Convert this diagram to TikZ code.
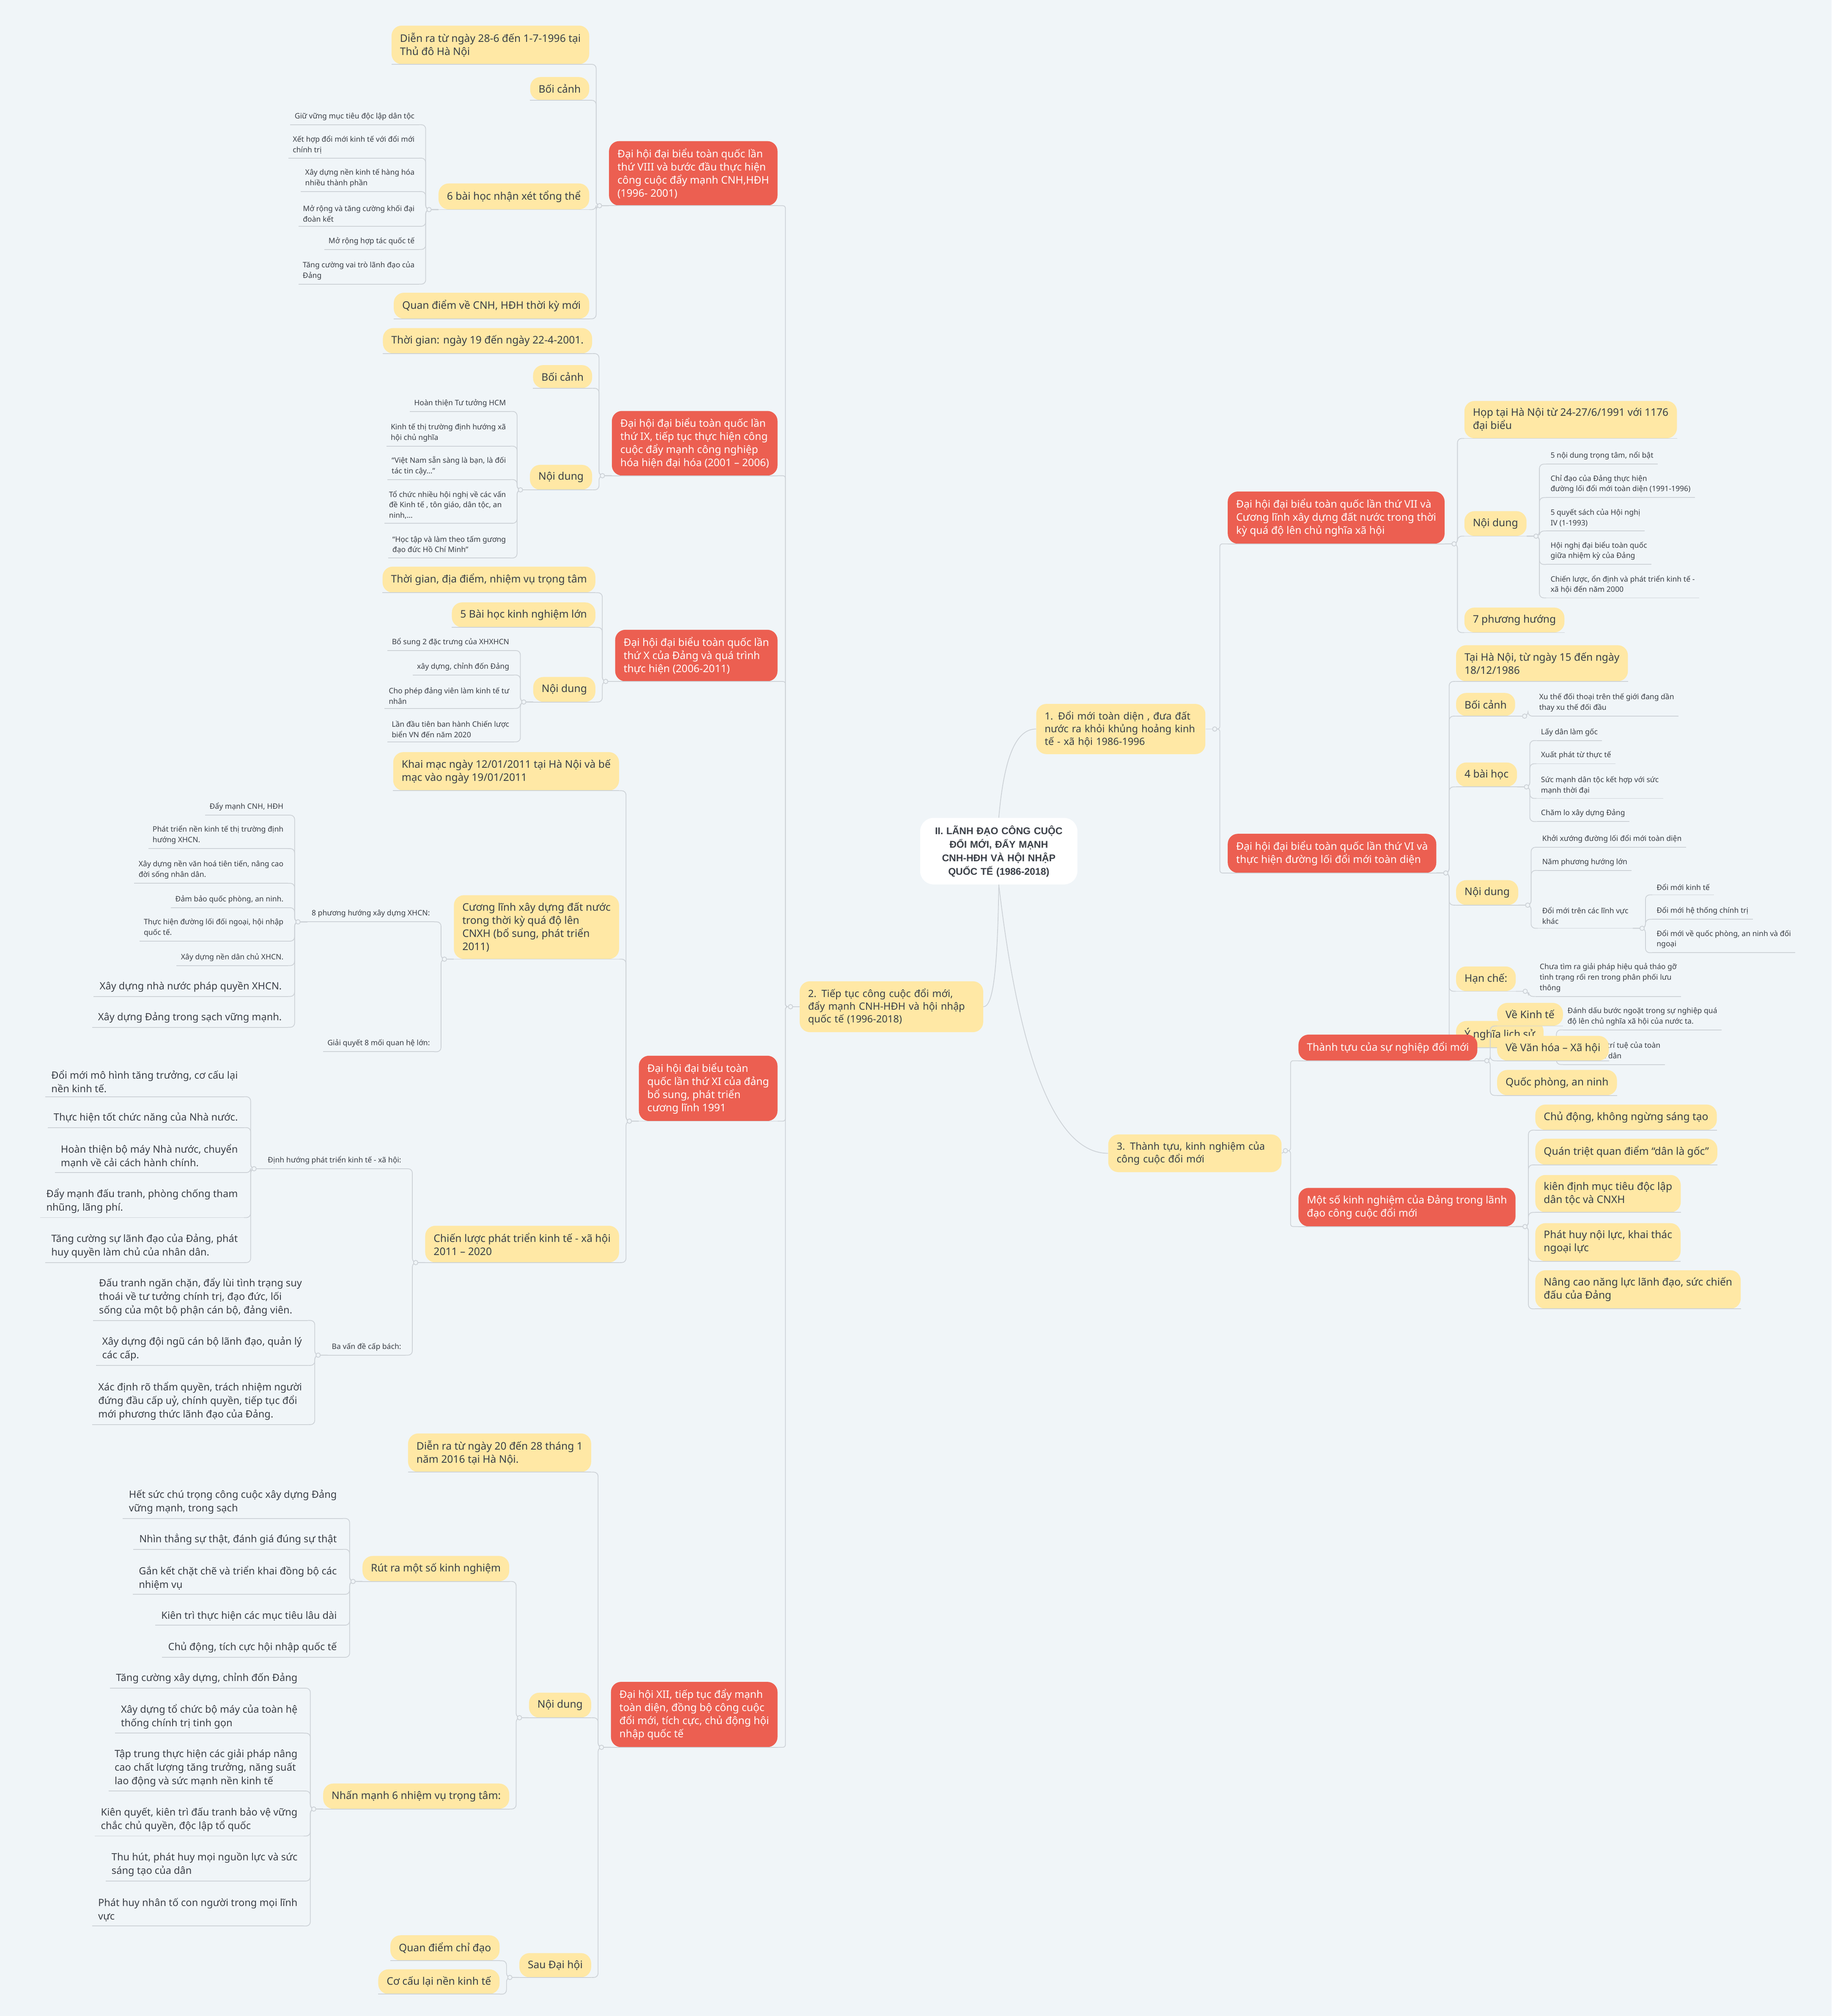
\documentclass[tikz,border=0pt]{standalone}
\usepackage{fontspec}
\setmainfont{Noto Sans}
\newfontfamily\rootfont{Liberation Sans}
\definecolor{bgc}{HTML}{F0F5F8}
\definecolor{yelc}{HTML}{FFE8A5}
\definecolor{redc}{HTML}{EC5F51}
\definecolor{linec}{HTML}{CDD2D7}
\definecolor{txt}{HTML}{3A3F47}
\newcommand\myL[2]{\foreach \x in {#2}{\draw[conn] (#1.south west) -- ++(-15pt,0) |- (\x.south east);}\draw[jc] ([xshift=-11pt]#1.south west) circle[radius=2.6pt];}
\newcommand\myR[2]{\foreach \x in {#2}{\draw[conn] (#1.south east) -- ++(15pt,0) |- (\x.south west);}\draw[jc] ([xshift=11pt]#1.south east) circle[radius=2.6pt];}
\newcommand\myLj[1]{\coordinate (#1-j) at ([xshift=-23pt]#1.south west);}
\newcommand\myRj[1]{\coordinate (#1-j) at ([xshift=23pt]#1.south east);}
\begin{document}
\begin{tikzpicture}[x=1.52pt,y=-1.52pt,
 uline/.style={draw=linec,line width=0.9pt},
 conn/.style={draw=linec,line width=0.9pt,rounded corners=5pt},
 jc/.style={fill=bgc,draw=linec,line width=0.9pt},
 ul/.style={append after command={(\tikzlastnode.south west) edge[uline] (\tikzlastnode.south east)}},
 ybox/.style={fill=yelc,text=txt,rounded corners=12pt,inner xsep=10pt,inner ysep=8.5pt,align=left,font=\fontsize{12.3}{15.5}\selectfont},
 yel/.style={ybox,ul},
 red/.style={ybox,fill=redc,text=white,ul},
 leaf/.style={text=txt,inner xsep=5pt,inner ysep=5pt,align=left,font=\fontsize{8.8}{12.3}\selectfont,ul},
 mleaf/.style={leaf,inner xsep=7pt,font=\fontsize{11.8}{16}\selectfont}]
\fill[bgc] (0,0) rectangle (1425,1568);
\useasboundingbox (0,0) rectangle (1425,1568);

% ---------- root and level 1
\node[fill=white,rounded corners=16pt,text width=168pt,align=center,text=txt,inner sep=9pt,font=\rootfont\bfseries\fontsize{11.5}{16}\selectfont] (root) at (777,662) {II. LÃNH ĐẠO CÔNG CUỘC\\ĐỔI MỚI, ĐẨY MẠNH\\CNH-HĐH VÀ HỘI NHẬP\\QUỐC TẾ (1986-2018)};
\node[ybox,anchor=west,text width=180pt,font=\fontsize{11.8}{15}\selectfont] (n1) at (806,567) {1. Đổi mới toàn diện , đưa đất\\nước ra khỏi khủng hoảng kinh\\tế - xã hội 1986-1996};
\node[ybox,anchor=east,text width=197pt,font=\fontsize{11.8}{15}\selectfont] (n2) at (765,783) {2. Tiếp tục công cuộc đổi mới,\\đẩy mạnh CNH-HĐH và hội nhập\\quốc tế (1996-2018)};
\node[ybox,anchor=west,text width=185pt,font=\fontsize{11.8}{15}\selectfont] (n3) at (862,897) {3. Thành tựu, kinh nghiệm của\\công cuộc đổi mới};
\draw[uline] (root.north) .. controls (781,590) and (790,567) .. (n1.west);
\draw[uline] (root.south) .. controls (776,760) and (772,783) .. (n2.east);
\draw[uline] (root.south) .. controls (790,800) and (815,897) .. (n3.west);
\coordinate (j1) at (945,567);
\coordinate (j2) at (615,783);
\coordinate (j3) at (1000,895);
\draw[uline] (n1.east) -- (j1);
\draw[uline] (n2.west) -- (j2);
\draw[uline] (n3.east) -- (j3);

% ---------- left reds
\node[red,anchor=south east] (R1) at (605,160) {Đại hội đại biểu toàn quốc lần\\thứ VIII và bước đầu thực hiện\\công cuộc đẩy mạnh CNH,HĐH\\(1996-  2001)};
\node[red,anchor=south east] (R2) at (605,370) {Đại hội đại biểu toàn quốc lần\\thứ IX, tiếp tục thực hiện công\\cuộc đẩy mạnh công nghiệp\\hóa hiện đại hóa (2001 – 2006)};
\node[red,anchor=south east] (R3) at (605,530) {Đại hội đại biểu toàn quốc lần\\thứ X của Đảng và quá trình\\thực hiện (2006-2011)};
\node[red,anchor=south east] (R4) at (605,872) {Đại hội đại biểu toàn\\quốc lần thứ XI của đảng\\bổ sung, phát triển\\cương lĩnh 1991};
\node[red,anchor=south east] (R5) at (605,1359) {Đại hội XII, tiếp tục đẩy mạnh\\toàn diện, đồng bộ công cuộc\\đổi mới, tích cực, chủ động hội\\nhập quốc tế};
\foreach \x in {R1,R2,R3,R4,R5}{\draw[conn,rounded corners=3pt] (j2) -- ++(-4,0) |- (\x.south east);}

% R1
\myLj{R1}
\node[yel,anchor=south east] (r1a) at (R1-j |- 0,50) {Diễn ra từ ngày 28-6 đến 1-7-1996 tại\\Thủ đô Hà Nội};
\node[yel,anchor=south east] (r1b) at (R1-j |- 0,78) {Bối cảnh};
\node[yel,anchor=south east] (r1c) at (R1-j |- 0,163) {6 bài học nhận xét tổng thể};
\node[yel,anchor=south east] (r1d) at (R1-j |- 0,248) {Quan điểm về CNH, HĐH thời kỳ mới};
\myLj{r1c}
\node[leaf,anchor=south east] (r1c1) at (r1c-j |- 0,97) {Giữ vững mục tiêu độc lập dân tộc};
\node[leaf,anchor=south east] (r1c2) at (r1c-j |- 0,123) {Xết hợp đổi mới kinh tế với đổi mới\\chính trị};
\node[leaf,anchor=south east] (r1c3) at (r1c-j |- 0,149) {Xây dựng nền kinh tế hàng hóa\\nhiều thành phần};
\node[leaf,anchor=south east] (r1c4) at (r1c-j |- 0,176) {Mở rộng và tăng cường khối đại\\đoàn kết};
\node[leaf,anchor=south east] (r1c5) at (r1c-j |- 0,194) {Mở rộng hợp tác quốc tế};
\node[leaf,anchor=south east] (r1c6) at (r1c-j |- 0,221) {Tăng cường vai trò lãnh đạo của\\Đảng};
\myL{r1c}{r1c1,r1c2,r1c3,r1c4,r1c5,r1c6}
\myL{R1}{r1a,r1b,r1c,r1d}

% R2
\myLj{R2}
\node[yel,anchor=south east] (r2a) at (R2-j |- 0,275) {Thời gian: ngày 19 đến ngày 22-4-2001.};
\node[yel,anchor=south east] (r2b) at (R2-j |- 0,302) {Bối cảnh};
\node[yel,anchor=south east] (r2c) at (R2-j |- 0,381) {Nội dung};
\myLj{r2c}
\node[leaf,anchor=south east] (r2c1) at (r2c-j |- 0,320) {Hoàn thiện Tư tưởng HCM};
\node[leaf,anchor=south east] (r2c2) at (r2c-j |- 0,347) {Kinh tế thị trường định hướng xã\\hội chủ nghĩa};
\node[leaf,anchor=south east] (r2c3) at (r2c-j |- 0,373) {“Việt Nam sẵn sàng là bạn, là đối\\tác tin cậy...”};
\node[leaf,anchor=south east] (r2c4) at (r2c-j |- 0,407) {Tổ chức nhiều hội nghị về các vấn\\đề Kinh tế , tôn giáo, dân tộc, an\\ninh,...};
\node[leaf,anchor=south east] (r2c5) at (r2c-j |- 0,434) {“Học tập và làm theo tấm gương\\đạo đức Hồ Chí Minh”};
\myL{r2c}{r2c1,r2c2,r2c3,r2c4,r2c5}
\myL{R2}{r2a,r2b,r2c}

% R3
\myLj{R3}
\node[yel,anchor=south east] (r3a) at (R3-j |- 0,461) {Thời gian, địa điểm, nhiệm vụ trọng tâm};
\node[yel,anchor=south east] (r3b) at (R3-j |- 0,488) {5 Bài học kinh nghiệm lớn};
\node[yel,anchor=south east] (r3c) at (R3-j |- 0,546) {Nội dung};
\myLj{r3c}
\node[leaf,anchor=south east] (r3c1) at (r3c-j |- 0,506) {Bổ sung 2 đặc trưng của XHXHCN};
\node[leaf,anchor=south east] (r3c2) at (r3c-j |- 0,525) {xây dựng, chỉnh đốn Đảng};
\node[leaf,anchor=south east] (r3c3) at (r3c-j |- 0,551) {Cho phép đảng viên làm kinh tế tư\\nhân};
\node[leaf,anchor=south east] (r3c4) at (r3c-j |- 0,577) {Lần đầu tiên ban hành Chiến lược\\biển VN đến năm 2020};
\myL{r3c}{r3c1,r3c2,r3c3,r3c4}
\myL{R3}{r3a,r3b,r3c}

% R4
\myLj{R4}
\node[yel,anchor=south east] (r4a) at (R4-j |- 0,615) {Khai mạc ngày 12/01/2011 tại Hà Nội và bế\\mạc vào ngày 19/01/2011};
\node[yel,anchor=south east] (r4b) at (R4-j |- 0,746) {Cương lĩnh xây dựng đất nước\\trong thời kỳ quá độ lên\\CNXH (bổ sung, phát triển\\2011)};
\node[yel,anchor=south east] (r4c) at (R4-j |- 0,982) {Chiến lược phát triển kinh tế - xã hội\\2011 – 2020};
\myLj{r4b}
\node[leaf,anchor=south east] (r4b1) at (r4b-j |- 0,717) {8 phương hướng xây dựng XHCN:};
\node[leaf,anchor=south east] (r4b2) at (r4b-j |- 0,818) {Giải quyết 8 mối quan hệ lớn:};
\myLj{r4b1}
\node[leaf,anchor=south east] (p1) at (r4b1-j |- 0,634) {Đẩy mạnh CNH, HĐH};
\node[leaf,anchor=south east] (p2) at (r4b1-j |- 0,660) {Phát triển nền kinh tế thị trường định\\hướng XHCN.};
\node[leaf,anchor=south east] (p3) at (r4b1-j |- 0,687) {Xây dựng nền văn hoá tiên tiến, nâng cao\\đời sống nhân dân.};
\node[leaf,anchor=south east] (p4) at (r4b1-j |- 0,706) {Đảm bảo quốc phòng, an ninh.};
\node[leaf,anchor=south east] (p5) at (r4b1-j |- 0,732) {Thực hiện đường lối đối ngoại, hội nhập\\quốc tế.};
\node[leaf,anchor=south east] (p6) at (r4b1-j |- 0,751) {Xây dựng nền dân chủ XHCN.};
\node[mleaf,anchor=south east] (p7) at (r4b1-j |- 0,775) {Xây dựng nhà nước pháp quyền XHCN.};
\node[mleaf,anchor=south east] (p8) at (r4b1-j |- 0,799) {Xây dựng Đảng trong sạch vững mạnh.};
\myL{r4b1}{p1,p2,p3,p4,p5,p6,p7,p8}
\myL{r4b}{r4b1,r4b2}
\myLj{r4c}
\node[leaf,anchor=south east] (r4c1) at (r4c-j |- 0,909) {Định hướng phát triển kinh tế - xã hội:};
\node[leaf,anchor=south east] (r4c2) at (r4c-j |- 0,1054) {Ba vấn đề cấp bách:};
\myLj{r4c1}
\node[mleaf,anchor=south east] (d1) at (r4c1-j |- 0,853) {Đổi mới mô hình tăng trưởng, cơ cấu lại\\nền kinh tế.};
\node[mleaf,anchor=south east] (d2) at (r4c1-j |- 0,877) {Thực hiện tốt chức năng của Nhà nước.};
\node[mleaf,anchor=south east] (d3) at (r4c1-j |- 0,912) {Hoàn thiện bộ máy Nhà nước, chuyển\\mạnh về cải cách hành chính.};
\node[mleaf,anchor=south east] (d4) at (r4c1-j |- 0,947) {Đẩy mạnh đấu tranh, phòng chống tham\\nhũng, lãng phí.};
\node[mleaf,anchor=south east] (d5) at (r4c1-j |- 0,982) {Tăng cường sự lãnh đạo của Đảng, phát\\huy quyền làm chủ của nhân dân.};
\myL{r4c1}{d1,d2,d3,d4,d5}
\myLj{r4c2}
\node[mleaf,anchor=south east] (b1) at (r4c2-j |- 0,1027) {Đấu tranh ngăn chặn, đẩy lùi tình trạng suy\\thoái về tư tưởng chính trị, đạo đức, lối\\sống của một bộ phận cán bộ, đảng viên.};
\node[mleaf,anchor=south east] (b2) at (r4c2-j |- 0,1062) {Xây dựng đội ngũ cán bộ lãnh đạo, quản lý\\các cấp.};
\node[mleaf,anchor=south east] (b3) at (r4c2-j |- 0,1108) {Xác định rõ thẩm quyền, trách nhiệm người\\đứng đầu cấp uỷ, chính quyền, tiếp tục đổi\\mới phương thức lãnh đạo của Đảng.};
\myL{r4c2}{b1,b2,b3}
\myL{r4c}{r4c1,r4c2}
\myL{R4}{r4a,r4b,r4c}

% R5
\myLj{R5}
\node[yel,anchor=south east] (r5a) at (R5-j |- 0,1145) {Diễn ra từ ngày 20 đến 28 tháng 1\\năm 2016 tại Hà Nội.};
\node[yel,anchor=south east] (r5b) at (R5-j |- 0,1336) {Nội dung};
\node[yel,anchor=south east] (r5c) at (R5-j |- 0,1538) {Sau Đại hội};
\myLj{r5b}
\node[yel,anchor=south east] (r5b1) at (r5b-j |- 0,1230) {Rút ra một số kinh nghiệm};
\node[yel,anchor=south east] (r5b2) at (r5b-j |- 0,1407) {Nhấn mạnh 6 nhiệm vụ trọng tâm:};
\myLj{r5b1}
\node[mleaf,anchor=south east] (k1) at (r5b1-j |- 0,1181) {Hết sức chú trọng công cuộc xây dựng Đảng\\vững mạnh, trong sạch};
\node[mleaf,anchor=south east] (k2) at (r5b1-j |- 0,1205) {Nhìn thẳng sự thật, đánh giá đúng sự thật};
\node[mleaf,anchor=south east] (k3) at (r5b1-j |- 0,1240) {Gắn kết chặt chẽ và triển khai đồng bộ các\\nhiệm vụ};
\node[mleaf,anchor=south east] (k4) at (r5b1-j |- 0,1264) {Kiên trì thực hiện các mục tiêu lâu dài};
\node[mleaf,anchor=south east] (k5) at (r5b1-j |- 0,1289) {Chủ động, tích cực hội nhập quốc tế};
\myL{r5b1}{k1,k2,k3,k4,k5}
\myLj{r5b2}
\node[mleaf,anchor=south east] (m1) at (r5b2-j |- 0,1313) {Tăng cường xây dựng, chỉnh đốn Đảng};
\node[mleaf,anchor=south east] (m2) at (r5b2-j |- 0,1348) {Xây dựng tổ chức bộ máy của toàn hệ\\thống chính trị tinh gọn};
\node[mleaf,anchor=south east] (m3) at (r5b2-j |- 0,1393) {Tập trung thực hiện các giải pháp nâng\\cao chất  lượng tăng trưởng, năng suất\\lao động và sức mạnh nền kinh tế};
\node[mleaf,anchor=south east] (m4) at (r5b2-j |- 0,1428) {Kiên quyết, kiên trì đấu tranh bảo vệ vững\\chắc chủ quyền, độc lập tổ quốc};
\node[mleaf,anchor=south east] (m5) at (r5b2-j |- 0,1463) {Thu hút, phát huy mọi nguồn lực và sức\\sáng tạo của dân};
\node[mleaf,anchor=south east] (m6) at (r5b2-j |- 0,1498) {Phát huy nhân tố con người trong mọi lĩnh\\vực};
\myL{r5b2}{m1,m2,m3,m4,m5,m6}
\myL{r5b}{r5b1,r5b2}
\myLj{r5c}
\node[yel,anchor=south east] (r5c1) at (r5c-j |- 0,1525) {Quan điểm chỉ đạo};
\node[yel,anchor=south east] (r5c2) at (r5c-j |- 0,1551) {Cơ cấu lại nền kinh tế};
\myL{r5c}{r5c1,r5c2}
\myL{R5}{r5a,r5b,r5c}
\draw[jc] (j2) circle[radius=2.6pt];

% ---------- right: section 1
\node[red,anchor=south west] (RA) at (955,423) {Đại hội đại biểu toàn quốc lần thứ VII và\\Cương lĩnh xây dựng đất nước trong thời\\kỳ quá độ lên chủ nghĩa xã hội};
\node[red,anchor=south west] (RB) at (955,679) {Đại hội đại biểu toàn quốc lần thứ VI và\\thực hiện đường lối đổi mới toàn diện};
\foreach \x in {RA,RB}{\draw[conn,rounded corners=3pt] (j1) -- ++(4,0) |- (\x.south west);}
\draw[jc] (j1) circle[radius=2.6pt];
\myRj{RA}
\node[yel,anchor=south west] (ra1) at (RA-j |- 0,341) {Họp tại Hà Nội từ 24-27/6/1991 với 1176\\đại biểu};
\node[yel,anchor=south west] (ra2) at (RA-j |- 0,417) {Nội dung};
\node[yel,anchor=south west] (ra3) at (RA-j |- 0,492) {7 phương hướng};
\myRj{ra2}
\node[leaf,anchor=south west] (ra21) at (ra2-j |- 0,361) {5 nội dung trọng tâm, nổi bật};
\node[leaf,anchor=south west] (ra22) at (ra2-j |- 0,387) {Chỉ đạo của Đảng thực hiện\\đường lối đổi mới toàn diện  (1991-1996)};
\node[leaf,anchor=south west] (ra23) at (ra2-j |- 0,413) {5 quyết sách của Hội nghị\\IV (1-1993)};
\node[leaf,anchor=south west] (ra24) at (ra2-j |- 0,439) {Hội nghị đại biểu toàn quốc\\giữa nhiệm kỳ của Đảng};
\node[leaf,anchor=south west] (ra25) at (ra2-j |- 0,465) {Chiến lược, ổn định và phát triển kinh tế -\\xã hội đến năm 2000};
\myR{ra2}{ra21,ra22,ra23,ra24,ra25}
\myR{RA}{ra1,ra2,ra3}

\myRj{RB}
\node[yel,anchor=south west] (rb1) at (RB-j |- 0,530) {Tại Hà Nội, từ ngày 15 đến ngày\\18/12/1986};
\node[yel,anchor=south west] (rb2) at (RB-j |- 0,557) {Bối cảnh};
\node[yel,anchor=south west] (rb3) at (RB-j |- 0,612) {4 bài học};
\node[yel,anchor=south west] (rb4) at (RB-j |- 0,704) {Nội dung};
\node[yel,anchor=south west] (rb5) at (RB-j |- 0,771) {Hạn chế:};
\node[yel,anchor=south west] (rb6) at (RB-j |- 0,815) {Ý nghĩa lịch sử};
\myRj{rb2}
\node[leaf,anchor=south west] (rb21) at (rb2-j |- 0,557) {Xu thế đối thoại trên thế giới đang dần\\thay xu thế đối đầu};
\myR{rb2}{rb21}
\myRj{rb3}
\node[leaf,anchor=south west] (rb31) at (rb3-j |- 0,576) {Lấy dân làm gốc};
\node[leaf,anchor=south west] (rb32) at (rb3-j |- 0,594) {Xuất phát từ thực tế};
\node[leaf,anchor=south west] (rb33) at (rb3-j |- 0,621) {Sức mạnh dân tộc kết hợp với sức\\mạnh thời đại};
\node[leaf,anchor=south west] (rb34) at (rb3-j |- 0,639) {Chăm lo xây dựng Đảng};
\myR{rb3}{rb31,rb32,rb33,rb34}
\myRj{rb4}
\node[leaf,anchor=south west] (rb41) at (rb4-j |- 0,659) {Khởi xướng đường lối đổi mới toàn diện};
\node[leaf,anchor=south west] (rb42) at (rb4-j |- 0,677) {Năm phương hướng lớn};
\node[leaf,anchor=south west] (rb43) at (rb4-j |- 0,722) {Đổi mới trên các lĩnh vực\\khác};
\myRj{rb43}
\node[leaf,anchor=south west] (rb431) at (rb43-j |- 0,696) {Đổi mới kinh tế};
\node[leaf,anchor=south west] (rb432) at (rb43-j |- 0,715) {Đổi mới hệ thống chính trị};
\node[leaf,anchor=south west] (rb433) at (rb43-j |- 0,741) {Đổi mới về quốc phòng, an ninh và đối\\ngoại};
\myR{rb43}{rb431,rb432,rb433}
\myR{rb4}{rb41,rb42,rb43}
\myRj{rb5}
\node[leaf,anchor=south west] (rb51) at (rb5-j |- 0,775) {Chưa tìm ra giải pháp hiệu quả tháo gỡ\\tình trạng rối ren trong phân phối lưu\\thông};
\myR{rb5}{rb51}
\myRj{rb6}
\node[leaf,anchor=south west] (rb61) at (rb6-j |- 0,801) {Đánh dấu bước ngoặt trong sự nghiệp quá\\độ lên chủ nghĩa xã hội của nước ta.};
\node[leaf,anchor=south west] (rb62) at (rb6-j |- 0,828) {Sự kết tinh trí tuệ của toàn\\Đảng, toàn dân};
\myR{rb6}{rb61,rb62}
\myR{RB}{rb1,rb2,rb3,rb4,rb5,rb6}

% ---------- right: section 3
\node[red,anchor=south west] (T1) at (1010,825) {Thành tựu của sự nghiệp đổi mới};
\node[red,anchor=south west] (T2) at (1010,954) {Một số kinh nghiệm của Đảng trong lãnh\\đạo công cuộc đổi mới};
\foreach \x in {T1,T2}{\draw[conn,rounded corners=3pt] (j3) -- ++(4,0) |- (\x.south west);}
\draw[jc] (j3) circle[radius=2.6pt];
\myRj{T1}
\node[yel,anchor=south west] (t11) at (T1-j |- 0,798) {Về Kinh tế};
\node[yel,anchor=south west] (t12) at (T1-j |- 0,825) {Về Văn hóa – Xã hội};
\node[yel,anchor=south west] (t13) at (T1-j |- 0,852) {Quốc phòng, an ninh};
\myR{T1}{t11,t12,t13}
\myRj{T2}
\node[yel,anchor=south west] (t21) at (T2-j |- 0,879) {Chủ động, không ngừng sáng tạo};
\node[yel,anchor=south west] (t22) at (T2-j |- 0,906) {Quán triệt quan điểm “dân là gốc”};
\node[yel,anchor=south west] (t23) at (T2-j |- 0,943) {kiên định mục tiêu độc lập\\dân tộc và CNXH};
\node[yel,anchor=south west] (t24) at (T2-j |- 0,981) {Phát huy nội lực, khai thác\\ngoại lực};
\node[yel,anchor=south west] (t25) at (T2-j |- 0,1018) {Nâng cao năng lực lãnh đạo, sức chiến\\đấu của Đảng};
\myR{T2}{t21,t22,t23,t24,t25}
\end{tikzpicture}
\end{document}
